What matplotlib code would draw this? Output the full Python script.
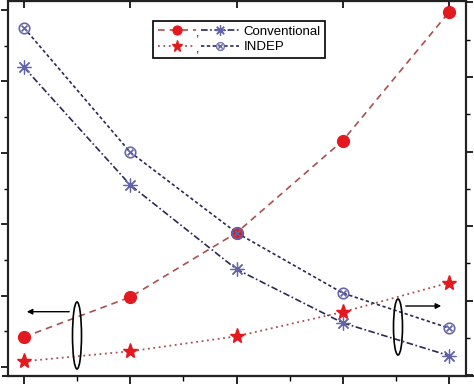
import matplotlib
matplotlib.use("Agg")
import matplotlib.pyplot as plt
from matplotlib.patches import Ellipse
from matplotlib.lines import Line2D
from matplotlib.legend_handler import HandlerTuple
from matplotlib.ticker import MultipleLocator, NullFormatter

plt.rcParams['font.family'] = ['Liberation Sans', 'DejaVu Sans']

# ---- data (arbitrary units; the chart shows no tick labels) ----
x_points = [1, 2, 3, 4, 5]
conv_left = [0.42, 0.98, 1.88, 3.17, 4.97]     # red circles, left axis
indep_left = [0.08, 0.22, 0.43, 0.77, 1.18]    # red stars, left axis
conv_right = [4.13, 2.55, 1.42, 0.70, 0.26]    # blue asterisks, right axis
indep_right = [4.66, 2.99, 1.91, 1.10, 0.63]   # blue circled-x, right axis
legend_labels = ["Conventional", "INDEP"]

W, H = 474, 386
fig = plt.figure(figsize=(W / 100, H / 100), dpi=100)
ax = fig.add_axes([8 / W, (H - 376) / H, (466 - 8) / W, (376 - 1) / H])
ax2 = ax.twinx()

red_m = '#e3191f'
red_l = '#a85050'
blue_m = '#6464aa'
blue_l = '#2a2a55'

l1, = ax.plot(x_points, conv_left, linestyle=(0, (4, 3)), color=red_l, lw=1.2,
              marker='o', ms=8.5, mfc=red_m, mec=red_m, zorder=3)
l2, = ax.plot(x_points, indep_left, linestyle=(0, (1, 2)), color=red_l, lw=1.3,
              marker='*', ms=11, mfc=red_m, mec=red_m, zorder=3)
l3, = ax2.plot(x_points, conv_right, linestyle=(0, (4, 1.5, 1, 1.5)), color=blue_l, lw=1.2,
               marker=(8, 2, 0), ms=10, mec=blue_m, mew=0.9, zorder=3)
l4, = ax2.plot(x_points, indep_right, linestyle=(0, (2, 1.5)), color=blue_l, lw=1.2,
               marker=r'$\otimes$', ms=8.5, mec=blue_m, mfc=blue_m, mew=0.2, zorder=3)

ax.set_xlim(0.849, 5.16)
ax.set_ylim(-0.126, 5.126)
ax2.set_ylim(-0.013, 5.02)

ax.xaxis.set_major_locator(MultipleLocator(1))
ax.xaxis.set_minor_locator(MultipleLocator(0.5))
ax.yaxis.set_major_locator(MultipleLocator(1))
ax.yaxis.set_minor_locator(MultipleLocator(0.5))
ax2.yaxis.set_major_locator(MultipleLocator(1))
ax2.yaxis.set_minor_locator(MultipleLocator(0.5))
for a in (ax, ax2):
    a.xaxis.set_major_formatter(NullFormatter())
    a.yaxis.set_major_formatter(NullFormatter())

ax.tick_params(axis='x', which='major', direction='out', length=6, width=1.2, top=True)
ax.tick_params(axis='x', which='minor', direction='out', length=3.5, width=1.0)
ax.tick_params(axis='y', which='major', direction='out', length=5, width=1.2)
ax.tick_params(axis='y', which='minor', direction='out', length=3, width=1.0)
ax2.tick_params(axis='y', which='major', direction='out', length=5, width=1.2)
ax2.tick_params(axis='y', which='minor', direction='out', length=3, width=1.0)
ax.tick_params(axis='x', which='both', top=False)

for a in (ax, ax2):
    for s in a.spines.values():
        s.set_linewidth(1.5)
        s.set_color('#222222')

# top inward ticks at major positions
axtop = ax.secondary_xaxis('top')
axtop.xaxis.set_major_locator(MultipleLocator(1))
axtop.xaxis.set_major_formatter(NullFormatter())
axtop.tick_params(direction='in', length=5, width=1.2)

# bottom line extending beyond the frame
fig.add_artist(Line2D([3 / W, 473 / W], [(H - 376) / H] * 2, transform=fig.transFigure,
                      color='#222222', lw=1.5))

# legend
leg = ax.legend([(l1, l3), (l2, l4)], legend_labels,
                handler_map={tuple: HandlerTuple(ndivide=None, pad=0.45)},
                loc='upper left', bbox_to_anchor=(153 / W, (H - 21) / H),
                bbox_transform=fig.transFigure, borderaxespad=0, frameon=True,
                fancybox=False, edgecolor='black', framealpha=1, fontsize=9.5,
                handlelength=6.2, handletextpad=0.3, borderpad=0.35, labelspacing=0.25,
                markerscale=0.75)
leg.get_frame().set_linewidth(1.2)
leg.set_zorder(5)
fig.text(198 / W, (H - 33) / H, ',', fontsize=9, ha='center', va='center')
fig.text(198 / W, (H - 50) / H, ',', fontsize=9, ha='center', va='center')

# ellipses and arrows
def fx(px):
    return px / W

def fy(py):
    return (H - py) / H

fig.add_artist(Ellipse((fx(77), fy(335.5)), 9 / W, 67 / H, transform=fig.transFigure,
                       fill=False, ec='black', lw=1.2))
fig.add_artist(Ellipse((fx(398), fy(327)), 9 / W, 56 / H, transform=fig.transFigure,
                       fill=False, ec='black', lw=1.2))
ax.annotate('', xy=(fx(24), fy(311.7)), xytext=(fx(72), fy(311.7)),
            xycoords='figure fraction', textcoords='figure fraction',
            arrowprops=dict(arrowstyle='-|>', color='black', lw=1.0, mutation_scale=8))
ax.annotate('', xy=(fx(444), fy(306)), xytext=(fx(403), fy(306)),
            xycoords='figure fraction', textcoords='figure fraction',
            arrowprops=dict(arrowstyle='-|>', color='black', lw=1.0, mutation_scale=8))

fig.savefig('out.png', dpi=100)
